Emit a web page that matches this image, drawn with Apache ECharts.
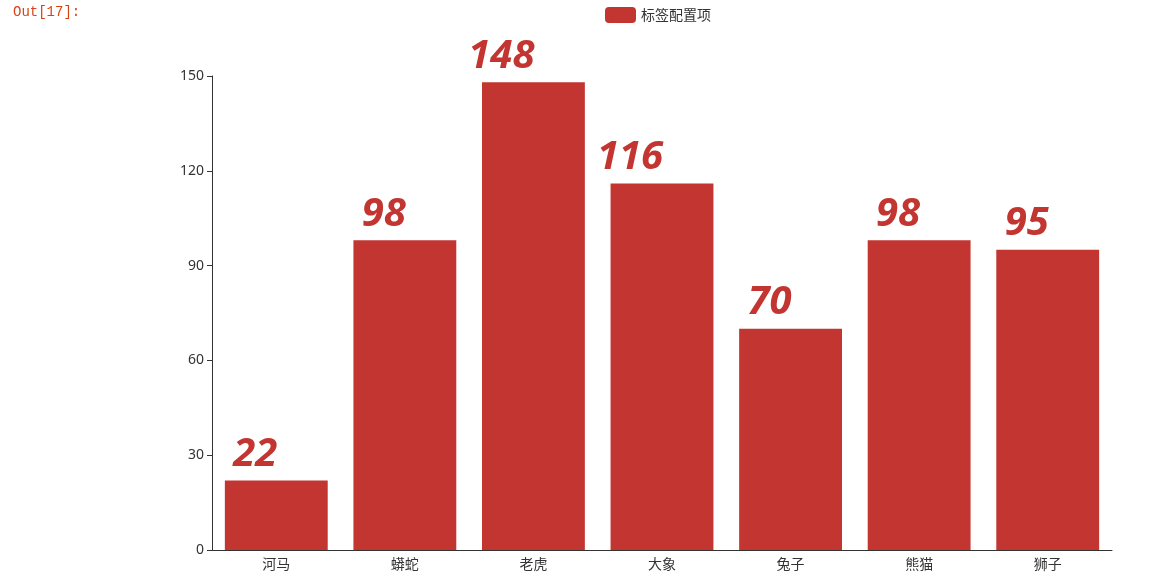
<!DOCTYPE html>
<html><head><meta charset="utf-8">
<script src="https://cdn.jsdelivr.net/npm/echarts@6/dist/echarts.min.js"></script>
<style>html,body{margin:0;padding:0;background:#fff;}#c{width:1156px;height:585px;}</style>
</head><body><div id="c"></div>
<script>
const categories = ['河马','蟒蛇','老虎','大象','兔子','熊猫','狮子'];
const values = [22, 98, 148, 116, 70, 98, 95];
const seriesName = '标签配置项';
const yTicks = { min: 0, max: 150, interval: 30 };

const chart = echarts.init(document.getElementById('c'));
const axisColor = '#333';
chart.setOption({
  animation: false,
  backgroundColor: '#fff',
  graphic: [{
    type: 'text', left: 13, top: 5,
    style: { text: 'Out[17]:', fill: '#D84315', font: '14px "Liberation Mono", "DejaVu Sans Mono", monospace' }
  }],
  legend: {
    data: [seriesName], left: 600, top: 2,
    itemWidth: 31, itemHeight: 16, icon: 'roundRect', itemGap: 10,
    textStyle: { color: '#333', fontSize: 14, fontFamily: '"Noto Sans CJK SC", sans-serif' }
  },
  grid: { left: 212, right: 44, top: 76, bottom: 35, containLabel: false },
  xAxis: {
    type: 'category', data: categories,
    axisLine: { lineStyle: { color: axisColor } },
    axisTick: { lineStyle: { color: axisColor } },
    axisLabel: { color: '#333', fontSize: 14, fontFamily: '"Noto Sans CJK SC", sans-serif', margin: 7 },
    splitLine: { show: false }
  },
  yAxis: {
    type: 'value', min: yTicks.min, max: yTicks.max, interval: yTicks.interval,
    axisLine: { show: true, lineStyle: { color: axisColor } },
    axisTick: { show: true, lineStyle: { color: axisColor } },
    axisLabel: { color: '#333', fontSize: 14, fontFamily: '"Noto Sans", sans-serif' },
    splitLine: { show: false }
  },
  series: [{
    name: seriesName, type: 'bar', data: values,
    barCategoryGap: '20%',
    itemStyle: { color: '#c23531' },
    label: {
      show: true, position: 'top', align: 'right', offset: [1, 0], distance: 6,
      color: '#c23531', fontSize: 40, fontStyle: 'italic', fontWeight: 'bold',
      fontFamily: '"Noto Sans", "Open Sans", sans-serif'
    }
  }]
});
</script></body></html>
